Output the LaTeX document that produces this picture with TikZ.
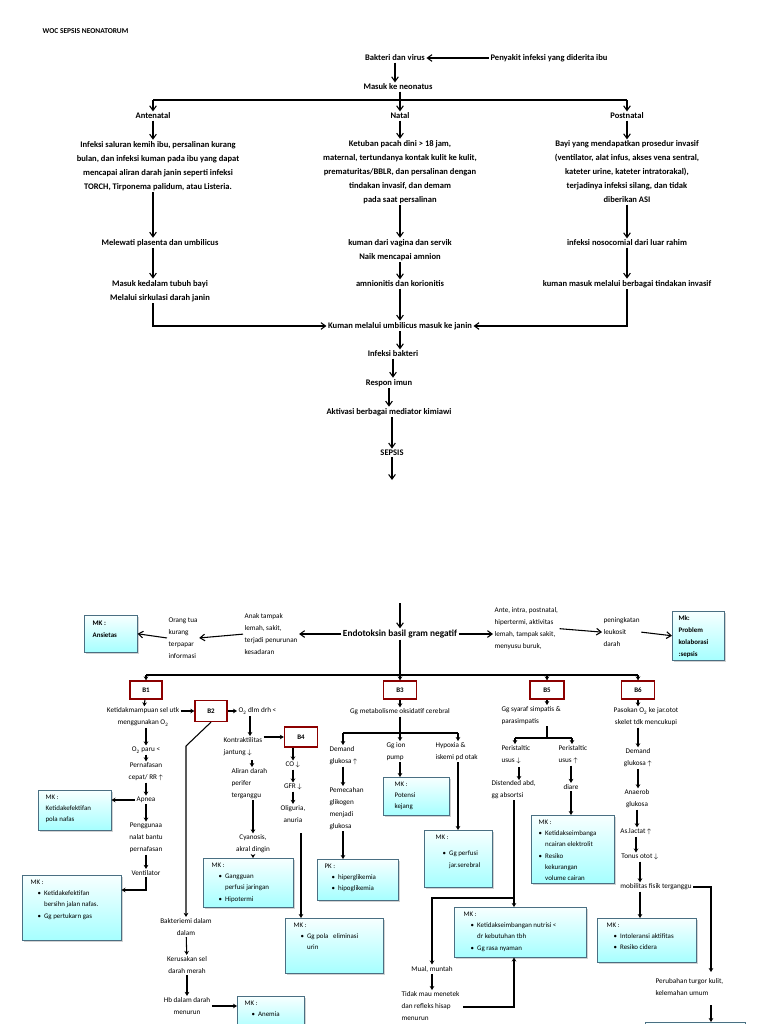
\documentclass[tikz,border=0pt]{standalone}
\usepackage{fontspec}
\setmainfont{Carlito}
\usetikzlibrary{arrows.meta,shadows,calc}
\begin{document}
\begin{tikzpicture}[x=0.75pt,y=-0.75pt,
 T/.style={font=\fontsize{6.4}{10.5}\selectfont\bfseries,align=center,inner sep=1pt},
 t/.style={font=\fontsize{5.4}{9}\selectfont,align=left,inner sep=1pt},
 tc/.style={t,align=center},
 ar/.style={-{Straight Barb[length=3.5pt,width=5pt]},line width=0.8pt},
 br/.style={-{Stealth[length=3pt,width=3.5pt]},line width=0.8pt},
 box/.style n args={2}{minimum width={#1*0.75pt},minimum height={#2*0.75pt}},
 mk/.style={draw=cyan!45!black,top color=cyan!3,bottom color=cyan!35,drop shadow={opacity=0.35,shadow xshift=1.2pt,shadow yshift=-1.2pt},anchor=north west,inner sep=0pt},
 bb/.style={draw=red!55!black,line width=1pt,fill=white,font=\fontsize{5.2}{6}\selectfont\bfseries,inner sep=0pt},
 mt/.style={t,anchor=north west,font=\fontsize{5.2}{8.5}\selectfont},
]
\useasboundingbox (0,0) rectangle (768,1024);
\fill[white] (0,0) rectangle (768,1024);
% ---------- top ----------
\node[anchor=west,font=\fontsize{5.6}{6}\selectfont\bfseries] (title) at (38,31) {WOC SEPSIS NEONATORUM};
\node[T] (bv) at (395,58) {Bakteri dan virus};
\node[T] (pen) at (549,58) {Penyakit infeksi yang diderita ibu};
\draw[ar] (pen) -- (bv);
\node[T] (mn) at (398,87) {Masuk ke neonatus};
\draw[ar] (bv.south) -- (bv.south |- mn.north);
\node[T] (ante) at (153,116) {Antenatal};
\node[T] (natal) at (400,116) {Natal};
\node[T] (post) at (627,116) {Postnatal};
\coordinate (hl) at (153,100);
\coordinate (hr) at (627,100);
\draw[line width=0.8pt] (hl) -- (hr);
\draw[ar] (hl) -- (ante);
\draw[ar] (hr) -- (post);
\draw[ar] (mn.south -| natal) -- (natal);
\node[T] (a1) at (158,166) {Infeksi saluran kemih ibu, persalinan kurang\\bulan, dan infeksi kuman pada ibu yang dapat\\mencapai aliran darah janin seperti infeksi\\TORCH, Tirponema palidum, atau Listeria.};
\node[T] (n1) at (400,172) {Ketuban pacah dini > 18 jam,\\maternal, tertundanya kontak kulit ke kulit,\\prematuritas/BBLR, dan persalinan dengan\\tindakan invasif, dan demam\\pada saat persalinan};
\node[T] (p1) at (627,172) {Bayi yang mendapatkan prosedur invasif\\(ventilator, alat infus, akses vena sentral,\\kateter urine, kateter intratorakal),\\terjadinya infeksi silang, dan tidak\\diberikan ASI};
\draw[ar] (ante) -- (ante |- a1.north);
\draw[ar] (natal) -- (n1);
\draw[ar] (post) -- (post |- p1.north);
\node[T] (a2) at (160,243) {Melewati plasenta dan umbilicus};
\node[T] (a3) at (160,291) {Masuk kedalam tubuh bayi\\Melalui sirkulasi darah janin};
\node[T] (n2) at (400,250) {kuman dari vagina dan servik\\Naik mencapai amnion};
\node[T] (n3) at (400,284) {amnionitis dan korionitis};
\node[T] (p2) at (627,243) {infeksi nosocomial dari luar rahim};
\node[T] (p3) at (627,284) {kuman masuk melalui berbagai tindakan invasif};
\node[T] (km) at (400,326) {Kuman melalui umbilicus masuk ke janin};
\draw[ar] (ante |- a1.south) -- (ante |- a2.north);
\draw[ar] (ante |- a2.south) -- (ante |- a3.north);
\draw[ar] (n1) -- (n2);
\draw[ar] (n2) -- (n3);
\draw[ar] (n3) -- (km);
\draw[ar] (p1) -- (p2);
\draw[ar] (p2) -- (p3);
\draw[ar] (ante |- a3.south) |- (km.west);
\draw[ar] (p3.south) |- (km.east);
\node[T] (ib) at (393,354) {Infeksi bakteri};
\node[T] (ri) at (389,383) {Respon imun};
\node[T] (am) at (389,412) {Aktivasi berbagai mediator kimiawi};
\node[T] (sep) at (392,453) {SEPSIS};
\coordinate (se) at (392,480);
\draw[ar] (km) -- (km |- ib.north);
\draw[ar] (ib) -- (ib |- ri.north);
\draw[ar] (ri) -- (ri |- am.north);
\draw[ar] (am.south -| sep) -- (sep);
\draw[ar] (sep) -- (se);
% ---------- bottom ----------
\coordinate (st) at (400,603);
\node[T,font=\fontsize{7}{8}\selectfont\bfseries] (endo) at (400,634) {Endotoksin basil gram negatif};
\draw[ar] (st) -- (endo);
\node[t,anchor=north west] (anak) at (243,612) {Anak tampak\\lemah, sakit,\\terjadi penurunan\\kesadaran};
\node[t,anchor=north west] (org) at (167,616) {Orang tua\\kurang\\terpapar\\informasi};
\node[mk,box={53}{37}] (ans) at (84,615) {};
\node[mt,font=\fontsize{5.2}{9}\selectfont\bfseries] at ($(ans.north west)+(7,4)$) {MK :\\Ansietas};
\draw[ar] (endo.west) -- (anak.east |- endo.west);
\draw[ar] (anak.west) -- (org.east);
\draw[ar] (org.west) -- (ans.east);
\node[t,anchor=north west] (ant) at (493,606) {Ante, intra, postnatal,\\hipertermi, aktivitas\\lemah, tampak sakit,\\menyusu buruk,};
\node[t,anchor=north west] (leu) at (602,616) {peningkatan\\leukosit\\darah};
\node[mk,box={52}{49}] (ps) at (672,611) {};
\node[mt,font=\fontsize{5.2}{9}\selectfont\bfseries] at ($(ps.north west)+(5,3)$) {Mk:\\Problem\\kolaborasi\\:sepsis};
\draw[ar] (endo.east) -- (ant.west |- endo.east);
\draw[ar] (ant.east) -- (leu.west);
\draw[ar] (leu.east) -- (ps.west);
% main branches
\node[bb,box={32}{18}] (B1) at (146,690) {B1};
\node[bb,box={33}{18}] (B3) at (400,690) {B3};
\node[bb,box={34}{18}] (B5) at (547,690) {B5};
\node[bb,box={33}{18}] (B6) at (638,690) {B6};
\node[bb,box={32}{21}] (B2) at (211,711) {B2};
\node[bb,box={33}{20}] (B4) at (301,737) {B4};
\coordinate (mh) at (400,675);
\draw[line width=0.8pt] (endo) -- (mh);
\draw[line width=0.8pt] (mh -| B1) -- (mh -| B6);
\draw[br] (mh -| B1) -- (B1);
\draw[br] (mh) -- (B3);
\draw[br] (mh -| B5) -- (B5);
\draw[br] (mh -| B6) -- (B6);
% B1 column
\node[tc] (k1) at (143,717) {Ketidakmampuan sel utk\\menggunakan O\textsubscript{2}};
\node[t,anchor=west] (o2d) at (237,711) {O\textsubscript{2} dlm drh <};
\draw[br] (B1) -- (k1);
\draw[br] (k1.east |- B2.west) -- (B2.west);
\draw[br] (B2.east) -- (o2d.west);
\node[tc] (k2) at (146,750) {O\textsubscript{2} paru <};
\node[tc] (k3) at (146,772) {Pernafasan\\cepat/ RR\,$\uparrow$};
\node[tc] (k4) at (146,800) {Apnea};
\node[tc] (k5) at (146,838) {Penggunaa\\nalat bantu\\pernafasan};
\node[tc] (k6) at (146,873) {Ventilator};
\draw[br] (k1.south -| k2) -- (k2);
\draw[br] (k2) -- (k3);
\draw[br] (k3) -- (k4);
\draw[br] (k4) -- (k5);
\draw[br] (k5) -- (k6);
\node[mk,box={73}{40}] (kp) at (38,790) {};
\node[mt] at ($(kp.north west)+(6,3)$) {MK :\\Ketidakefektifan\\pola nafas};
\draw[br] (k4.west) -- (kp.east |- k4.west);
\node[mk,box={99}{65}] (kj) at (22,875) {};
\node[mt] at ($(kj.north west)+(7,3)$) {MK :\\\quad\textbullet\ \ Ketidakefektifan\\\quad\phantom{\textbullet}\ \ bersihn jalan nafas.\\\quad\textbullet\ \ Gg pertukarn gas};
\draw[br] (k6.south) |- ($(kj.north east)+(0,15)$);
% B2 column
\node[tc] (bk) at (186,927) {Bakteriemi dalam\\dalam};
\node[tc] (kr) at (187,965) {Kerusakan sel\\darah merah};
\node[tc] (hb) at (187,1006) {Hb dalam darah\\menurun};
\draw[br] (B2.south) -- (186,746) -- (bk.north);
\draw[br] (bk) -- (kr);
\draw[br] (kr) -- (hb);
\node[mk,box={67}{36}] (an) at (237,996) {};
\node[mt] at ($(an.north west)+(6,3)$) {MK :\\\quad\textbullet\ \ Anemia};
\draw[br] (hb.east) -- (hb.east -| an.west);
% O2 column
\node[t,anchor=north west] (kt) at (222,736) {Kontraktilitas\\jantung\,$\downarrow$};
\node[t,anchor=north west] (al) at (230,767) {Aliran darah\\perifer\\terganggu};
\node[tc] (cy) at (253,844) {Cyanosis,\\akral dingin};
\draw[br] (250,716) -- (250,736);
\draw[br] (kt.east |- B4.west) -- (B4.west);
\draw[br] (252,760) -- (252,767);
\draw[br] (al.south -| cy) -- (cy);
\node[mk,box={90}{49}] (gp) at (203,858) {};
\node[mt] at ($(gp.north west)+(7,3)$) {MK :\\\quad\textbullet\ \ Gangguan\\\quad\phantom{\textbullet}\ \ perfusi jaringan\\\quad\textbullet\ \ Hipotermi};
\draw[br] (cy) -- (cy |- gp.north);
\node[tc] (co) at (293,765) {CO\,$\downarrow$};
\node[tc] (gfr) at (293,787) {GFR\,$\downarrow$};
\node[tc] (ol) at (293,814) {Oliguria,\\anuria};
\draw[br] (B4.south -| co) -- (co);
\draw[br] (co) -- (gfr);
\draw[br] (gfr) -- (ol);
\node[mk,box={98}{55}] (ue) at (285,918) {};
\node[mt] at ($(ue.north west)+(7,3)$) {MK :\\\quad\textbullet\ \ Gg pola\ \ \ eliminasi\\\quad\phantom{\textbullet}\ \ urin};
\draw[br] (301,833) -- (301 ,918);
% B3 column
\node[tc] (gm) at (400,712) {Gg metabolisme oksidatif cerebral};
\draw[br] (B3) -- (gm);
\coordinate (b3c) at (400,733);
\coordinate (b3l) at (343,733);
\coordinate (b3r) at (458,733);
\draw[line width=1pt] (gm) -- (b3c);
\draw[line width=0.8pt] (b3l) -- (b3r);
\node[t,anchor=north west] (dg) at (328,745) {Demand\\glukosa\,$\uparrow$};
\node[t,anchor=north west] (pm) at (328,786) {Pemecahan\\glikogen\\menjadi\\glukosa};
\node[t,anchor=north west] (gi) at (385,741) {Gg ion\\pump};
\node[t,anchor=north west] (hy) at (434,741) {Hypoxia \&\\iskemi pd otak};
\draw[br] (b3l) -- (b3l |- dg.north);
\draw[br] (b3c) -- (b3c |- gi.north);
\draw[br] (b3r) -- (b3r |- hy.north);
\draw[br] (b3l |- dg.south) -- (b3l |- pm.north);
\node[mk,box={81}{41}] (pk) at (317,859) {};
\node[mt] at ($(pk.north west)+(6,3)$) {PK :\\\quad\textbullet\ \ hiperglikemia\\\quad\textbullet\ \ hipoglikemia};
\draw[br] (b3l |- pm.south) -- (b3l |- pk.north);
\node[mk,box={66}{38}] (pkj) at (383,777) {};
\node[mt] at ($(pkj.north west)+(10,3)$) {MK :\\Potensi\\kejang};
\draw[br,line width=1pt] (b3c |- gi.south) -- (b3c |- pkj.north);
\node[mk,box={68}{57}] (gpc) at (424,830) {};
\node[mt] at ($(gpc.north west)+(10,3)$) {MK :\\[4pt]\quad\textbullet\ \ Gg perfusi\\\quad\phantom{\textbullet}\ \ jar.serebral};
\draw[br] (b3r |- hy.south) -- (b3r |- gpc.north);
% B5 column
\node[t,anchor=north west] (gs) at (500,705) {Gg syaraf simpatis \&\\parasimpatis};
\draw[br] (B5) -- (B5 |- gs.north);
\coordinate (b5c) at (547,738);
\coordinate (b5l) at (515,738);
\coordinate (b5r) at (572,738);
\draw[line width=1pt] (b5c |- gs.south) -- (b5c);
\draw[line width=0.8pt] (b5l) -- (b5r);
\node[t,anchor=north west] (pd) at (500,744) {Peristaltic\\usus\,$\downarrow$};
\node[t,anchor=north west] (ds) at (490,779) {Distended abd,\\gg absortsi};
\node[t,anchor=north west] (pu) at (557,744) {Peristaltic\\usus\,$\uparrow$};
\node[tc] (di) at (571,787) {diare};
\draw[br] (b5l) -- (b5l |- pd.north);
\draw[br] (b5r) -- (b5r |- pu.north);
\draw[br] (519,767) -- (519,780);
\draw[br] (pu.south -| di) -- (di);
\node[mk,box={83}{68}] (ek) at (531,815) {};
\node[mt] at ($(ek.north west)+(6,3)$) {MK :\\\textbullet\ \ Ketidakseimbanga\\\phantom{\textbullet}\ \ ncairan elektrolit\\\textbullet\ \ Resiko\\\phantom{\textbullet}\ \ kekurangan\\\phantom{\textbullet}\ \ volume cairan};
\draw[br] (di) -- (di |- ek.north);
\node[mk,box={132}{50}] (nb) at (454,907) {};
\node[mt] at ($(nb.north west)+(8,3)$) {MK :\\\quad\textbullet\ \ Ketidakseimbangan nutrisi <\\\quad\phantom{\textbullet}\ \ dr kebutuhan tbh\\\quad\textbullet\ \ Gg rasa nyaman};
\coordinate (j) at (514,898);
\node[tc] (mu) at (432,969) {Mual, muntah};
\node[t,anchor=north west] (tm) at (400,990) {Tidak mau menetek\\dan refleks hisap\\menurun};
\draw[br] (j |- ds.south) -- (j |- nb.north);
\draw[br] (j) -| (mu.north);
\draw[br] (mu) -- (mu |- tm.north);
\draw[br] ($(tm.north east)+(2,17)$) -| (j |- nb.south);
% B6 column
\node[tc] (po) at (646,717) {Pasokan O\textsubscript{2} ke jar.otot\\skelet tdk mencukupi};
\draw[br] (B6) -- (B6 |- po.north);
\node[tc] (de) at (638,758) {Demand\\glukosa\,$\uparrow$};
\node[tc] (anr) at (637,799) {Anaerob\\glukosa};
\node[tc] (asl) at (636,832) {As.lactat\,$\uparrow$};
\node[tc] (to) at (640,857) {Tonus otot\,$\downarrow$};
\node[tc] (mo) at (656,887) {mobilitas fisik terganggu};
\draw[br] (B6 |- po.south) -- (B6 |- de.north);
\draw[br] (de) -- (de |- anr.north);
\draw[br] (anr) -- (anr |- asl.north);
\draw[br] (asl) -- (asl |- to.north);
\draw[br] (to) -- (to |- mo.north);
\node[mk,box={99}{44}] (ia) at (597,918) {};
\node[mt] at ($(ia.north west)+(8,3)$) {MK :\\\quad\textbullet\ \ Intoleransi aktifitas\\\quad\textbullet\ \ Resiko cidera};
\draw[br] (to |- mo.south) -- (to |- ia.north);
\node[t,anchor=north west] (pt) at (654,977) {Perubahan turgor kulit,\\kelemahan umum};
\draw[br] (mo.east) -- (711,887) -- (711,972);
\node[mk,box={100}{20}] (lb) at (645,1022) {};
\draw[br] (711,1005) -- (lb.north -| 711,0);
\end{tikzpicture}
\end{document}
